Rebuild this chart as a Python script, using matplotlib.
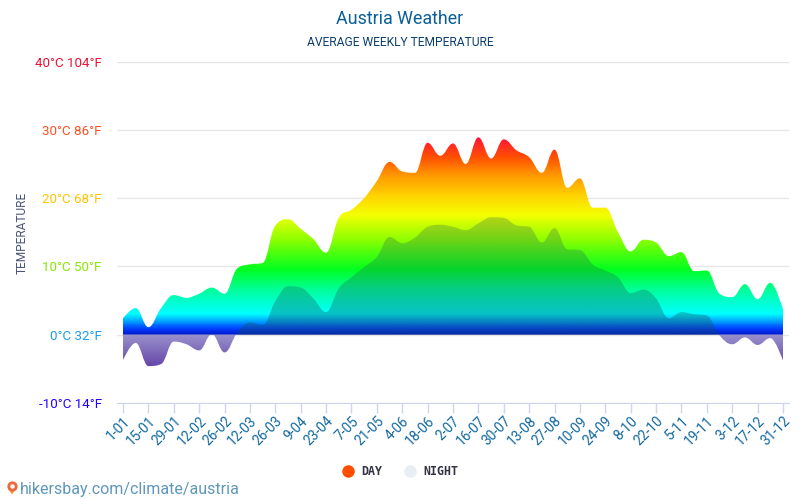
import numpy as np
import matplotlib
matplotlib.use('Agg')
import matplotlib.pyplot as plt
from matplotlib.colors import LinearSegmentedColormap, to_rgb
from matplotlib.lines import Line2D
from matplotlib.patches import PathPatch, Polygon
from matplotlib.path import Path

plt.rcParams['font.family'] = ['Roboto', 'DejaVu Sans']

week_labels = ['1-01', '15-01', '29-01', '12-02', '26-02', '12-03', '26-03', '9-04', '23-04',
               '7-05', '21-05', '4-06', '18-06', '2-07', '16-07', '30-07', '13-08', '27-08',
               '10-09', '24-09', '8-10', '22-10', '5-11', '19-11', '3-12', '17-12', '31-12']

day_temp = [2.4, 3.9, 1.1, 3.9, 5.8, 5.4, 6.0, 6.9, 6.0, 9.7, 10.3, 10.5, 16.0, 16.9, 15.5, 14.0,
            12.0, 17.1, 18.3, 20.0, 22.5, 25.3, 23.9, 23.7, 28.1, 26.2, 28.0, 25.0, 28.9, 25.8,
            28.6, 27.0, 26.0, 23.7, 27.1, 21.5, 22.9, 18.6, 18.6, 15.0, 12.2, 13.9, 13.5, 11.5,
            12.1, 9.3, 9.4, 6.0, 5.5, 7.4, 5.2, 7.6, 3.7]
night_temp = [-3.7, -1.2, -4.6, -4.3, -1.0, -1.4, -2.3, 0.1, -2.6, 0.3, 1.8, 1.4, 4.9, 7.1, 6.9,
              5.3, 3.3, 6.8, 8.4, 9.9, 11.4, 14.3, 13.4, 14.2, 15.8, 16.1, 15.8, 15.3, 16.3, 17.2,
              17.1, 16.0, 15.8, 13.5, 15.6, 12.5, 12.4, 10.3, 9.4, 8.4, 6.1, 6.6, 5.3, 2.4, 3.3,
              3.0, 2.8, -0.1, -1.4, -0.4, -1.5, -0.5, -3.8]

y_ticks = [-10, 0, 10, 20, 30, 40]
y_labels = ['-10°C 14°F', '0°C 32°F', '10°C 50°F', '20°C 68°F', '30°C 86°F', '40°C 104°F']
y_colors = ['#2200ff', '#1e9cf0', '#86e800', '#ffc400', '#ff5020', '#ee1133']

W, H = 800, 500


def px(x, y):
    # pixel position from the top left -> figure fraction
    return x / W, 1 - y / H


def spline_path(xs, ys):
    # same control points as a highcharts areaspline, closed on y=0
    verts = [(xs[0], 0), (xs[0], ys[0])]
    codes = [Path.MOVETO, Path.LINETO]
    n = len(xs)
    conts = []
    for i in range(n):
        if i == 0 or i == n - 1:
            conts.append(((xs[i], ys[i]), (xs[i], ys[i])))
            continue
        x, y = xs[i], ys[i]
        lx = (1.5 * x + xs[i - 1]) / 2.5
        ly = (1.5 * y + ys[i - 1]) / 2.5
        rx = (1.5 * x + xs[i + 1]) / 2.5
        ry = (1.5 * y + ys[i + 1]) / 2.5
        corr = (ry - ly) * (rx - x) / (rx - lx) + y - ry
        ly += corr
        ry += corr
        # no overshoot at the peaks
        if ly > y and ly > ys[i - 1]:
            ly = max(y, ys[i - 1])
            ry = 2 * y - ly
        elif ly < y and ly < ys[i - 1]:
            ly = min(y, ys[i - 1])
            ry = 2 * y - ly
        if ry > y and ry > ys[i + 1]:
            ry = max(y, ys[i + 1])
            ly = 2 * y - ry
        elif ry < y and ry < ys[i + 1]:
            ry = min(y, ys[i + 1])
            ly = 2 * y - ry
        conts.append(((lx, ly), (rx, ry)))
    for i in range(n - 1):
        verts += [conts[i][1], conts[i + 1][0], (xs[i + 1], ys[i + 1])]
        codes += [Path.CURVE4] * 3
    verts += [(xs[-1], 0), (xs[0], 0)]
    codes += [Path.LINETO, Path.CLOSEPOLY]
    return Path(verts, codes)


fig = plt.figure(figsize=(W / 100, H / 100), dpi=100)
ax = fig.add_axes([117 / W, 1 - 403 / H, 672 / W, (403 - 61.5) / H])

x_pos = np.arange(len(day_temp))
label_pos = x_pos[::2]
extent = (-1, len(day_temp), -10, 40)

# day gradient, -10..40 mapped onto 0..1
day_stops = [(-10, '#1000a0'), (0, '#0018d0'), (0.8, '#0040ff'), (3, '#00ffff'), (6.5, '#00ff9c'),
             (9.5, '#00ff20'), (14, '#90ff00'), (17.5, '#f4ff00'), (20, '#ffd800'),
             (23, '#ffa000'), (26, '#ff5000'), (29, '#ff1040'), (40, '#ff0040')]
day_cmap = LinearSegmentedColormap.from_list(
    'day', [((v + 10) / 50, c) for v, c in day_stops], N=512)
levels = np.linspace(40, -10, 500).reshape(-1, 1)
img = ax.imshow(levels, cmap=day_cmap, vmin=-10, vmax=40, extent=extent, aspect='auto',
                interpolation='bilinear', zorder=2)
day_patch = PathPatch(spline_path(x_pos, day_temp), transform=ax.transData, fc='none', ec='none')
ax.add_patch(day_patch)
img.set_clip_path(day_patch)

# night: dark veil above zero (a bit heavier low down), purple below it
rgba = np.zeros((500, 1, 4))
vals = levels[:, 0]
rgba[vals >= 0, 0, :3] = to_rgb('#14505a')
rgba[vals >= 0, 0, 3] = np.interp(vals[vals >= 0], [2, 9], [0.36, 0.25])
neg = vals < 0
t = np.clip(-vals[neg] / 4.6, 0, 1)
rgba[neg, 0, 0] = 0.60 - 0.20 * t
rgba[neg, 0, 1] = 0.57 - 0.29 * t
rgba[neg, 0, 2] = 0.80 - 0.13 * t
rgba[neg, 0, 3] = 1
night_img = ax.imshow(rgba, extent=extent, aspect='auto', interpolation='bilinear', zorder=3)
night_patch = PathPatch(spline_path(x_pos, night_temp), transform=ax.transData, fc='none', ec='none')
ax.add_patch(night_patch)
night_img.set_clip_path(night_patch)

ax.set_xlim(-6 / 12.69, 52 + 6 / 12.69)
ax.set_ylim(-10, 40)

ax.set_xticks(label_pos)
ax.set_xticklabels(week_labels, rotation=45, ha='right', rotation_mode='anchor',
                   fontsize=9.9, color='#11689f')
ax.set_yticks(y_ticks)
ax.set_yticklabels(y_labels, fontsize=9.6)
for lab, c in zip(ax.get_yticklabels(), y_colors):
    lab.set_color(c)
ax.tick_params(axis='x', length=7, width=1, color='#ccd6eb', pad=1)
ax.tick_params(axis='y', length=0, pad=11)
ax.grid(axis='y', color='#e6e6e6', linewidth=1, zorder=1)
ax.set_axisbelow(True)
for side in ['top', 'right', 'left']:
    ax.spines[side].set_visible(False)
ax.spines['bottom'].set_color('#ccd6eb')

fig.text(*px(400, 18.5), 'Austria Weather', ha='center', va='center', fontsize=12.9, color='#0b5f96')
fig.text(*px(400, 42), 'AVERAGE WEEKLY TEMPERATURE', ha='center', va='center', fontsize=8.65,
         color='#0b3f6f')
fig.text(*px(22, 232.5), 'TEMPERATURE', ha='center', va='center', rotation=90, fontsize=8.6,
         color='#4a5578')

# legend
fig.add_artist(Line2D([348 / W], [1 - 471 / H], marker='o', ms=9, mfc='#ff4e00', mec='none',
                      transform=fig.transFigure))
fig.add_artist(Line2D([410 / W], [1 - 471 / H], marker='o', ms=9, mfc='#e8eef4', mec='none',
                      transform=fig.transFigure))
fig.text(*px(361, 471.5), 'DAY', va='center', family='DejaVu Sans Mono', weight='bold', fontsize=8.4,
         color='#333344')
fig.text(*px(423, 471.5), 'NIGHT', va='center', family='DejaVu Sans Mono', weight='bold', fontsize=8.4,
         color='#333344')

# source line with the pin
fig.text(*px(20, 489.5), 'hikersbay.com/climate/austria', va='center', fontsize=11.55, color='#5f97ba')
pin = Polygon([(7.6 / W, 1 - 488 / H), (16.4 / W, 1 - 488 / H), (12 / W, 1 - 494.5 / H)],
              transform=fig.transFigure, fc='#f0a030', ec='none')
fig.add_artist(pin)
fig.add_artist(Line2D([12 / W], [1 - 485.5 / H], marker='o', ms=7.4, mfc='#ec6a3c', mec='none',
                      transform=fig.transFigure))
fig.add_artist(Line2D([12 / W], [1 - 485.5 / H], marker='o', ms=3.2, mfc='white', mec='none',
                      transform=fig.transFigure))

plt.savefig('out.png', dpi=100)
plt.close()
